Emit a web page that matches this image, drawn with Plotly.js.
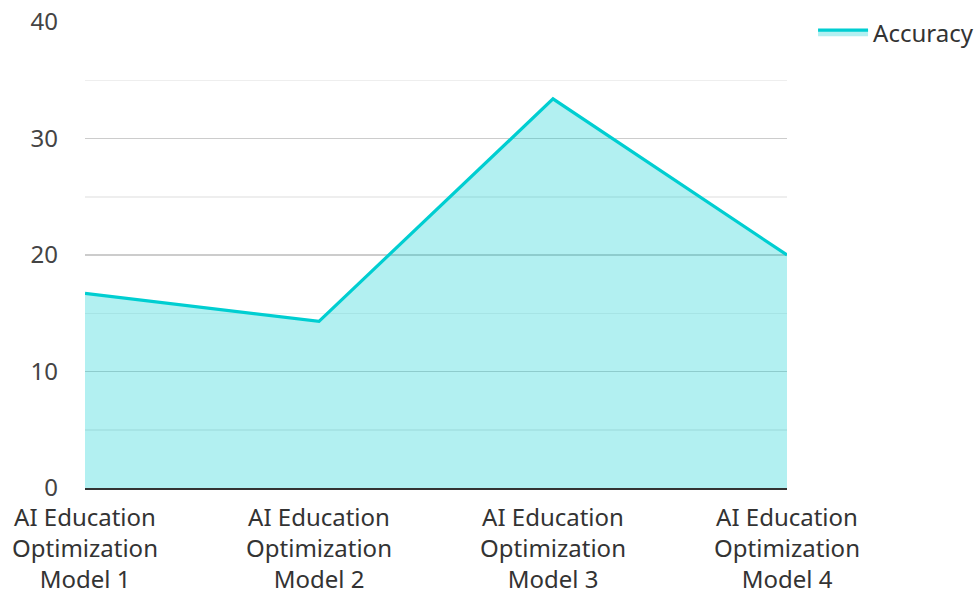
<!DOCTYPE html>
<html>
<head>
<meta charset="utf-8">
<script src="https://cdn.plot.ly/plotly-3.0.1.min.js"></script>
<style>html,body{margin:0;padding:0;background:#fff;}#chart{width:979px;height:593px;}</style>
</head>
<body>
<div id="chart"></div>
<script>
const categories = ["AI Education<br>Optimization<br>Model 1", "AI Education<br>Optimization<br>Model 2", "AI Education<br>Optimization<br>Model 3", "AI Education<br>Optimization<br>Model 4"];
const seriesName = "Accuracy";
const accuracy = [16.7, 14.3, 33.4, 20.0];
const yTicks = [0, 10, 20, 30, 40];

const trace = {
  x: categories,
  y: accuracy,
  type: "scatter",
  mode: "lines",
  name: seriesName,
  fill: "tozeroy",
  fillcolor: "rgba(0,206,209,0.3)",
  line: {color: "#00CED1", width: 3.2}
};

const layout = {
  width: 979, height: 593,
  margin: {l: 85, r: 192, t: 22, b: 105, autoexpand: false},
  paper_bgcolor: "#fff", plot_bgcolor: "#fff",
  font: {family: "Noto Sans, sans-serif", size: 24, color: "#333"},
  showlegend: true,
  legend: {xref: "container", yref: "container", x: 0.8305, xanchor: "left", y: 0.983, yanchor: "top", itemwidth: 50, font: {size: 24, color: "#333"}, bgcolor: "rgba(0,0,0,0)"},
  xaxis: {
    type: "category", range: [0, 3], showgrid: false, zeroline: false,
    showline: true, linecolor: "#333", linewidth: 2, automargin: false,
    ticks: "", tickfont: {size: 24, color: "#333"}, ticklabelstandoff: 7, fixedrange: true
  },
  yaxis: {
    range: [0, 40], tickvals: yTicks, ticktext: yTicks.map(String), automargin: false,
    showgrid: true, gridcolor: "#cccccc", gridwidth: 1.5,
    minor: {dtick: 5, showgrid: true, gridcolor: "#eeeeee", gridwidth: 1.5},
    zeroline: false, showline: false, ticks: "", ticklen: 0,
    tickfont: {size: 24, color: "#444"}, ticklabelstandoff: 26
  }
};

Plotly.newPlot("chart", [trace], layout, {displayModeBar: false, staticPlot: true});
</script>
</body>
</html>
